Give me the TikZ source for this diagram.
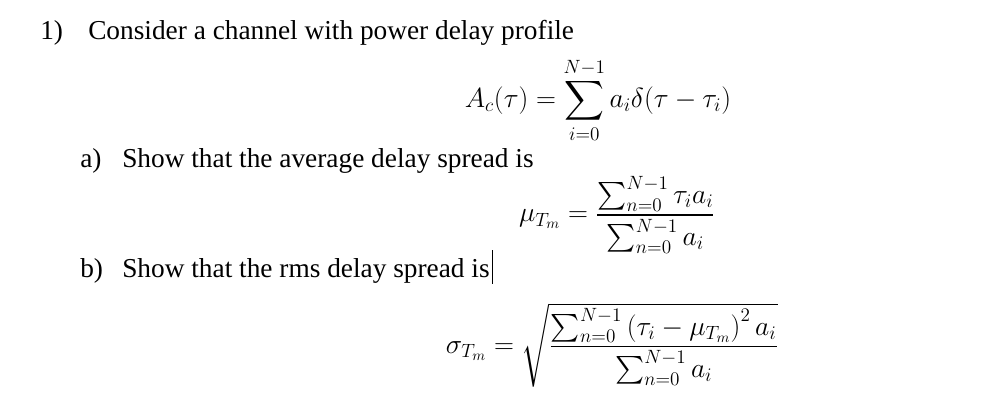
\documentclass[tikz,border=0pt]{standalone}
\usepackage{amsmath}
\usepackage{fontspec}
\setmainfont{Liberation Serif}
\begin{document}
\begin{tikzpicture}[x=0.75pt,y=-0.75pt]
\tikzset{txt/.style={inner sep=0,anchor=base west,font=\fontsize{20.5}{24}\selectfont},
eq/.style={inner sep=0,anchor=center,font=\fontsize{21}{25}\selectfont}}
\useasboundingbox (0,0) rectangle (1000,409);
\node[txt] (n1) at (40,40) {1)};
\node[txt] (t1) at (88,40) {Consider a channel with power delay profile};
\node[eq] (e1) at (598,100) {$A_c(\tau)=\displaystyle\sum_{i=0}^{N-1}a_i\delta(\tau-\tau_i)$};
\node[txt] (na) at (80,168) {a)};
\node[txt] (ta) at (122,168) {Show that the average delay spread is};
\node[eq] (e2) at (617,215) {$\mu_{T_m}=\dfrac{\sum_{n=0}^{N-1}\tau_i a_i}{\sum_{n=0}^{N-1}a_i}$};
\node[txt] (nb) at (80,278) {b)};
\node[txt] (tb) at (122,278) {Show that the rms delay spread is};
\draw (tb.base east)++(2,6) -- ++(0,-34);
\node[eq] (e3) at (612,345) {$\sigma_{T_m}=\sqrt{\dfrac{\sum_{n=0}^{N-1}\left(\tau_i-\mu_{T_m}\right)^2a_i}{\sum_{n=0}^{N-1}a_i}}$};
\end{tikzpicture}
\end{document}
